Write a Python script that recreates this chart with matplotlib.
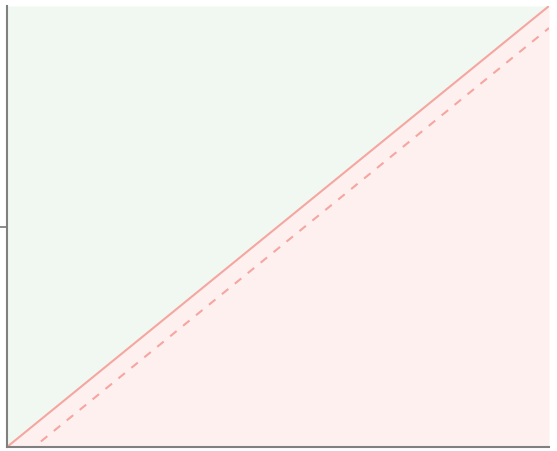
import matplotlib
matplotlib.use("Agg")
import matplotlib.pyplot as plt
import numpy as np

# data
x_vals = [0.0, 1.0]
parity = [0.0, 1.0]
offset_line = [-0.05, 0.95]
y_ticks = [0.5]

fig = plt.figure(figsize=(5.57, 4.52), dpi=100)
ax = fig.add_axes([7 / 557, 4 / 452, 542 / 557, 441 / 452])

ax.fill_between(x_vals, parity, [1, 1], color="#f1f8f1", lw=0)
ax.fill_between(x_vals, [0, 0], parity, color="#fff0f0", lw=0)
ax.plot(x_vals, parity, color="#f5a6a0", lw=1.5)
ax.plot(x_vals, offset_line, color="#f5a6a0", lw=1.5, ls=(0, (4, 4)))

ax.set_xlim(0, 1)
ax.set_ylim(0, 1)
ax.set_xticks([])
ax.set_yticks(y_ticks)
ax.set_yticklabels([])
ax.tick_params(axis="y", length=7, width=1.2, color="#777777")
for s in ["top", "right"]:
    ax.spines[s].set_visible(False)
for s in ["left", "bottom"]:
    ax.spines[s].set_color("#808080")
    ax.spines[s].set_linewidth(1.5)

fig.savefig("out.png", dpi=100)
